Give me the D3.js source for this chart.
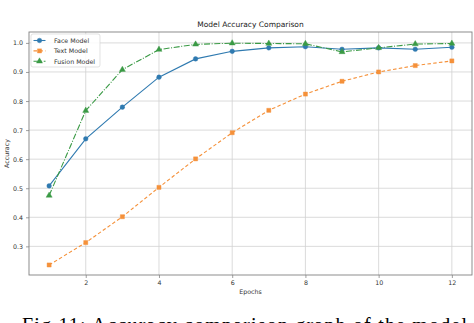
<!DOCTYPE html>
<html><head><meta charset="utf-8">
<script src="https://cdn.jsdelivr.net/npm/d3@7"></script>
<style>html,body{margin:0;padding:0;background:#fff;overflow:hidden}</style>
</head><body>
<svg id="c" width="474" height="323"></svg>
<script>
const epochs = [1,2,3,4,5,6,7,8,9,10,11,12];
const faceModel   = [0.508,0.670,0.779,0.882,0.945,0.971,0.983,0.987,0.978,0.983,0.978,0.985];
const textModel   = [0.236,0.313,0.402,0.503,0.601,0.691,0.768,0.824,0.868,0.900,0.922,0.938];
const fusionModel = [0.475,0.767,0.908,0.977,0.995,0.999,0.998,0.997,0.969,0.983,0.996,0.998];
const xTicks = [2,4,6,8,10,12];
const yTicks = [0.3,0.4,0.5,0.6,0.7,0.8,0.9,1.0];
const seriesNames = ["Face Model","Text Model","Fusion Model"];
const title = "Model Accuracy Comparison";
const xLabel = "Epochs", yLabel = "Accuracy";
const caption = "Fig 11: Accuracy comparison graph of the model";

const svg = d3.select("#c");
const L=29, R=472, T=32, B=275;
const x = d3.scaleLinear().domain([0.45,12.55]).range([L,R]);
const y = d3.scaleLinear().domain([0.2015,1.0375]).range([B,T]);
const font = "DejaVu Sans, sans-serif";

// grid
const g = svg.append("g");
g.selectAll(".gx").data(xTicks).enter().append("line")
  .attr("x1",d=>x(d)).attr("x2",d=>x(d)).attr("y1",T).attr("y2",B)
  .attr("stroke","#d2d2d2").attr("stroke-width",0.8);
g.selectAll(".gy").data(yTicks).enter().append("line")
  .attr("y1",d=>y(d)).attr("y2",d=>y(d)).attr("x1",L).attr("x2",R)
  .attr("stroke","#d2d2d2").attr("stroke-width",0.8);

// axes
const xAxis = d3.axisBottom(x).tickValues(xTicks).tickSize(3).tickPadding(3).tickFormat(d3.format("d"));
const yAxis = d3.axisLeft(y).tickValues(yTicks).tickSize(3).tickPadding(3).tickFormat(d3.format(".1f"));
const ax = svg.append("g").attr("transform",`translate(0,${B})`).call(xAxis);
const ay = svg.append("g").attr("transform",`translate(${L},0)`).call(yAxis);
[ax,ay].forEach(a=>{
  a.select(".domain").remove();
  a.selectAll("line").attr("stroke","#777").attr("stroke-width",0.7);
  a.selectAll("text").attr("fill","#333").style("font-family",font).style("font-size","6.3px");
});
// frame
svg.append("rect").attr("x",L).attr("y",T).attr("width",R-L).attr("height",B-T)
  .attr("fill","none").attr("stroke","#808080").attr("stroke-width",0.9);

// series
const series = [
  {name:seriesNames[0], vals:faceModel, color:"#2f7ab0", dash:null, marker:"circle"},
  {name:seriesNames[1], vals:textModel, color:"#f5913a", dash:"3.5,2.3", marker:"square"},
  {name:seriesNames[2], vals:fusionModel, color:"#3a9a45", dash:"6,1.6,1,1.6", marker:"triangle"}
];
const line = d3.line().x(d=>x(d[0])).y(d=>y(d[1]));
function drawMarker(sel, type, color){
  const sym = type==="circle"?d3.symbolCircle:type==="square"?d3.symbolSquare:d3.symbolTriangle;
  const size = type==="circle"?17:type==="square"?17:16;
  sel.append("path").attr("d",d3.symbol().type(sym).size(size)).attr("fill",color).attr("stroke",color).attr("stroke-width",0.4);
}
series.forEach(s=>{
  const pts = epochs.map((e,i)=>[e,s.vals[i]]);
  svg.append("path").datum(pts).attr("d",line).attr("fill","none")
    .attr("stroke",s.color).attr("stroke-width",1.1)
    .attr("stroke-dasharray",s.dash);
  pts.forEach(p=>{
    const m = svg.append("g").attr("transform",`translate(${x(p[0])},${y(p[1])})`);
    drawMarker(m,s.marker,s.color);
  });
});

// legend
const lg = svg.append("g");
lg.append("rect").attr("x",31).attr("y",34).attr("width",69).attr("height",33).attr("rx",2)
  .attr("fill","#fff").attr("fill-opacity",0.85).attr("stroke","#d6d6d6").attr("stroke-width",0.7);
series.forEach((s,i)=>{
  const yy = 40.5 + i*10.4;
  lg.append("line").attr("x1",33.5).attr("x2",45.5).attr("y1",yy).attr("y2",yy)
    .attr("stroke",s.color).attr("stroke-width",1.1).attr("stroke-dasharray",s.dash);
  const m = lg.append("g").attr("transform",`translate(39.5,${yy})`);
  drawMarker(m,s.marker,s.color);
  lg.append("text").attr("x",54).attr("y",yy).attr("dy","0.35em").text(s.name)
    .attr("fill","#333").style("font-family",font).style("font-size","6.3px");
});

// labels
svg.append("text").attr("x",(L+R)/2).attr("y",27).attr("text-anchor","middle").text(title)
  .attr("fill","#222").style("font-family",font).style("font-size","7.5px");
svg.append("text").attr("x",(L+R)/2).attr("y",294).attr("text-anchor","middle").text(xLabel)
  .attr("fill","#333").style("font-family",font).style("font-size","6.3px");
svg.append("text").attr("transform",`translate(9,${(T+B)/2}) rotate(-90)`).attr("text-anchor","middle").text(yLabel)
  .attr("fill","#333").style("font-family",font).style("font-size","6.3px");

// caption (cut off by the frame edge)
svg.append("text").attr("x",22).attr("y",332).text(caption)
  .attr("textLength",445).attr("lengthAdjust","spacing")
  .attr("fill","#000").style("font-family","Liberation Serif, serif").style("font-size","20px");
</script>
</body></html>
